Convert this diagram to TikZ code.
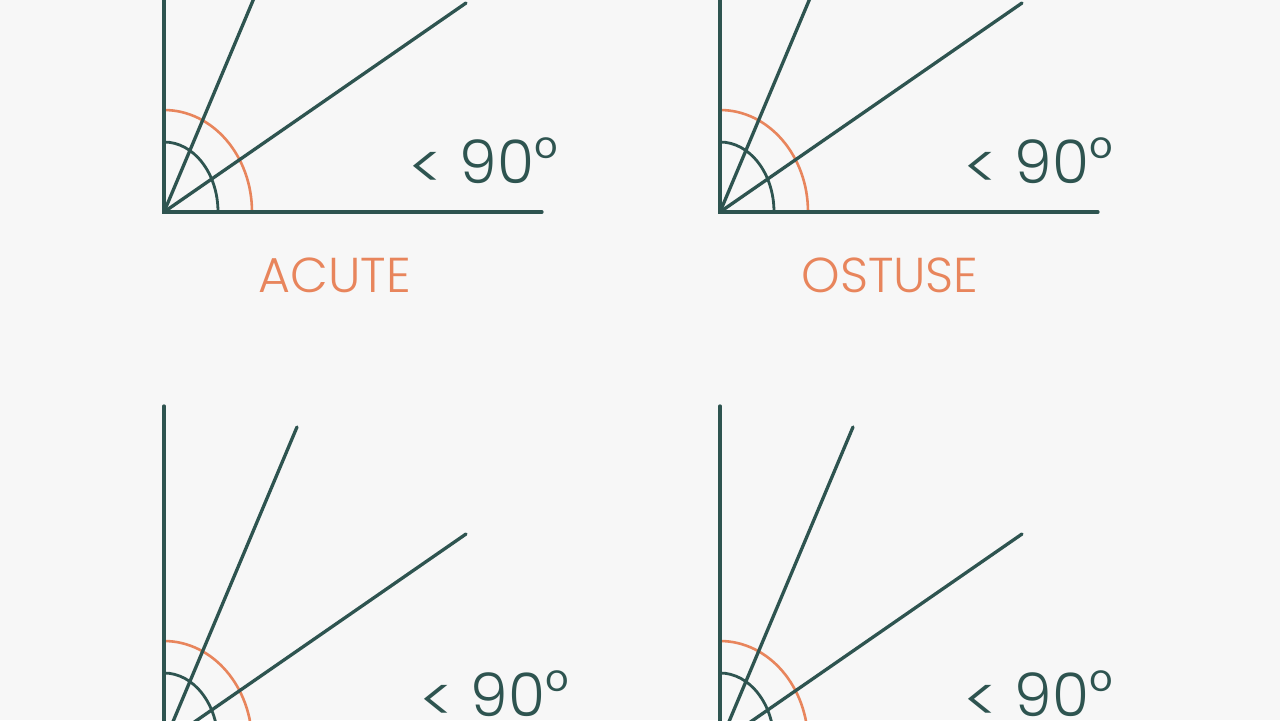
\documentclass[tikz,border=0pt]{standalone}
\usepackage{fontspec}
\setmainfont{Poppins}[UprightFont=* Light]
\definecolor{ink}{HTML}{2E5450}
\definecolor{accent}{HTML}{E8855C}
\definecolor{bg}{HTML}{F7F7F7}
\newcommand{\lessdeg}{\raisebox{-2.5pt}{\scalebox{1.15}[1]{<}} 90\raisebox{2pt}{°}}
\tikzset{
  ray/.style={draw=ink, line width=1.65pt, line cap=round},
  inkarc/.style={draw=ink, line width=1.4pt},
  orarc/.style={draw=accent, line width=1.3pt},
  degree/.style={text=ink, font=\fontsize{30}{34}\selectfont, anchor=base west, inner sep=0pt},
  kind/.style={text=accent, font=\fontsize{24.5}{28}\selectfont, anchor=base, inner sep=0pt},
  fan/.pic={
    \coordinate (-v) at (0,0);
    \coordinate (-top) at (0,-337);
    \coordinate (-h) at (378,0);
    \coordinate (-r1) at (133,-316);
    \coordinate (-r2) at (302,-209);
    \draw[orarc] (88,0) arc[start angle=0, end angle=-90, x radius=88, y radius=102];
    \draw[inkarc] (54,0) arc[start angle=0, end angle=-90, x radius=54, y radius=70];
    \draw[ray] (-top) -- (-v) -- (-h);
    \draw[ray] (-v) -- (-r1);
    \draw[ray] (-v) -- (-r2);
  }
}
\begin{document}
\begin{tikzpicture}[x=0.5pt, y=-0.5pt]
  \fill[bg] (0,0) rectangle (1280,720);
  \useasboundingbox (0,0) rectangle (1280,720);
  \begin{scope}
    \clip (0,0) rectangle (1280,720);
    \pic (tl) at (164,212) {fan};
    \pic (tr) at (720,212) {fan};
    \pic (bl) at (164,743) {fan};
    \pic (br) at (720,743) {fan};
    \node[degree] (dtl) at (408,183) {\lessdeg};
    \node[degree] (dtr) at (963,183) {\lessdeg};
    \node[degree] (dbl) at (419,716) {\lessdeg};
    \node[degree] (dbr) at (963,716) {\lessdeg};
  \end{scope}
  \node[kind] (acute) at (335,292) {ACUTE};
  \node[kind] (ostuse) at (890,292) {OSTUSE};
\end{tikzpicture}
\end{document}
